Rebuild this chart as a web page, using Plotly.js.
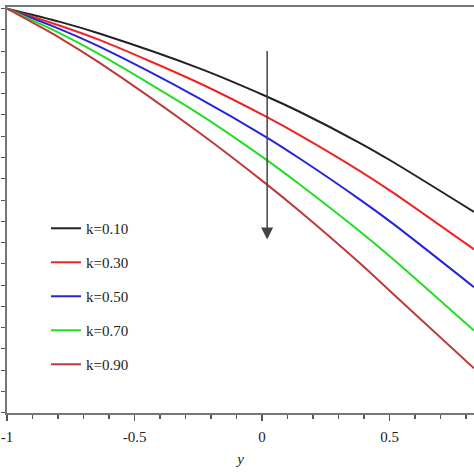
<!DOCTYPE html>
<html>
<head>
<meta charset="utf-8">
<script src="https://cdn.plot.ly/plotly-3.0.1.min.js"></script>
<style>
  html, body { margin: 0; padding: 0; background: #fff; }
  #chart { width: 474px; height: 474px; }
</style>
</head>
<body>
<div id="chart"></div>
<script>
// values (x cropped at about 0.83 on the right)
var yPos = [-1, -0.792, -0.635, -0.243, 0.016, 0.149, 0.384, 0.512, 0.831];
var k010 = [0, -0.031, -0.059, -0.141, -0.206, -0.243, -0.316, -0.360, -0.478];
var k030 = [0, -0.040, -0.074, -0.176, -0.254, -0.298, -0.382, -0.432, -0.566];
var k050 = [0, -0.048, -0.090, -0.212, -0.302, -0.353, -0.449, -0.505, -0.655];
var k070 = [0, -0.058, -0.108, -0.249, -0.355, -0.414, -0.524, -0.588, -0.757];
var k090 = [0, -0.069, -0.128, -0.293, -0.412, -0.477, -0.599, -0.670, -0.846];

var names = ['k=0.10', 'k=0.30', 'k=0.50', 'k=0.70', 'k=0.90'];
var series = [k010, k030, k050, k070, k090];
var colors = ['#222222', '#ee2424', '#2424dd', '#22dd22', '#bb3a3a'];

// arrow showing increasing k
var arrowX = 0.02;
var arrowTop = -0.096;
var arrowTip = -0.543;

var data = [];
for (var i = 0; i < series.length; i++) {
    data.push({
        x: yPos,
        y: series[i],
        name: names[i],
        legendgroup: 'g' + i,
        type: 'scatter',
        mode: 'lines',
        line: { color: colors[i], width: 2, shape: 'spline', smoothing: 0.8 }
    });
}

var layout = {
    width: 474,
    height: 474,
    margin: { l: 7, r: 0, t: 7, b: 61, pad: 0 },
    paper_bgcolor: '#fff',
    plot_bgcolor: '#fff',
    font: { family: '"Liberation Serif", "Times New Roman", serif', size: 15, color: '#222' },
    xaxis: {
        range: [-1, 0.831],
        tickmode: 'array',
        tickvals: [-1, -0.5, 0, 0.5],
        ticktext: ['-1', '-0.5', '0', '0.5'],
        ticks: 'outside',
        ticklen: 6,
        tickwidth: 1.5,
        tickcolor: '#555',
        ticklabelstandoff: 3,
        minor: { dtick: 0.1, ticks: 'outside', ticklen: 4, tickcolor: '#555' },
        showline: true,
        linecolor: '#777',
        linewidth: 2,
        mirror: true,
        showgrid: false,
        zeroline: false,
        title: { text: '<i>y</i>', standoff: 9, font: { size: 15 } }
    },
    yaxis: {
        range: [-0.951, 0.004],
        dtick: 0.05,
        ticks: 'outside',
        ticklen: 4,
        tickcolor: '#555',
        showticklabels: false,
        showline: true,
        linecolor: '#777',
        linewidth: 2,
        showgrid: false,
        zeroline: false
    },
    showlegend: true,
    legend: {
        x: 0.0835,
        y: 0.495,
        xanchor: 'left',
        yanchor: 'top',
        bgcolor: 'rgba(0,0,0,0)',
        tracegroupgap: 11.5,
        font: { size: 15 }
    },
    annotations: [{
        x: arrowX, y: arrowTip, ax: arrowX, ay: arrowTop,
        xref: 'x', yref: 'y', axref: 'x', ayref: 'y',
        text: '', showarrow: true,
        arrowhead: 2, arrowsize: 1.6, arrowwidth: 1.5, arrowcolor: '#444'
    }]
};

Plotly.newPlot('chart', data, layout, { displayModeBar: false, staticPlot: true });
</script>
</body>
</html>
